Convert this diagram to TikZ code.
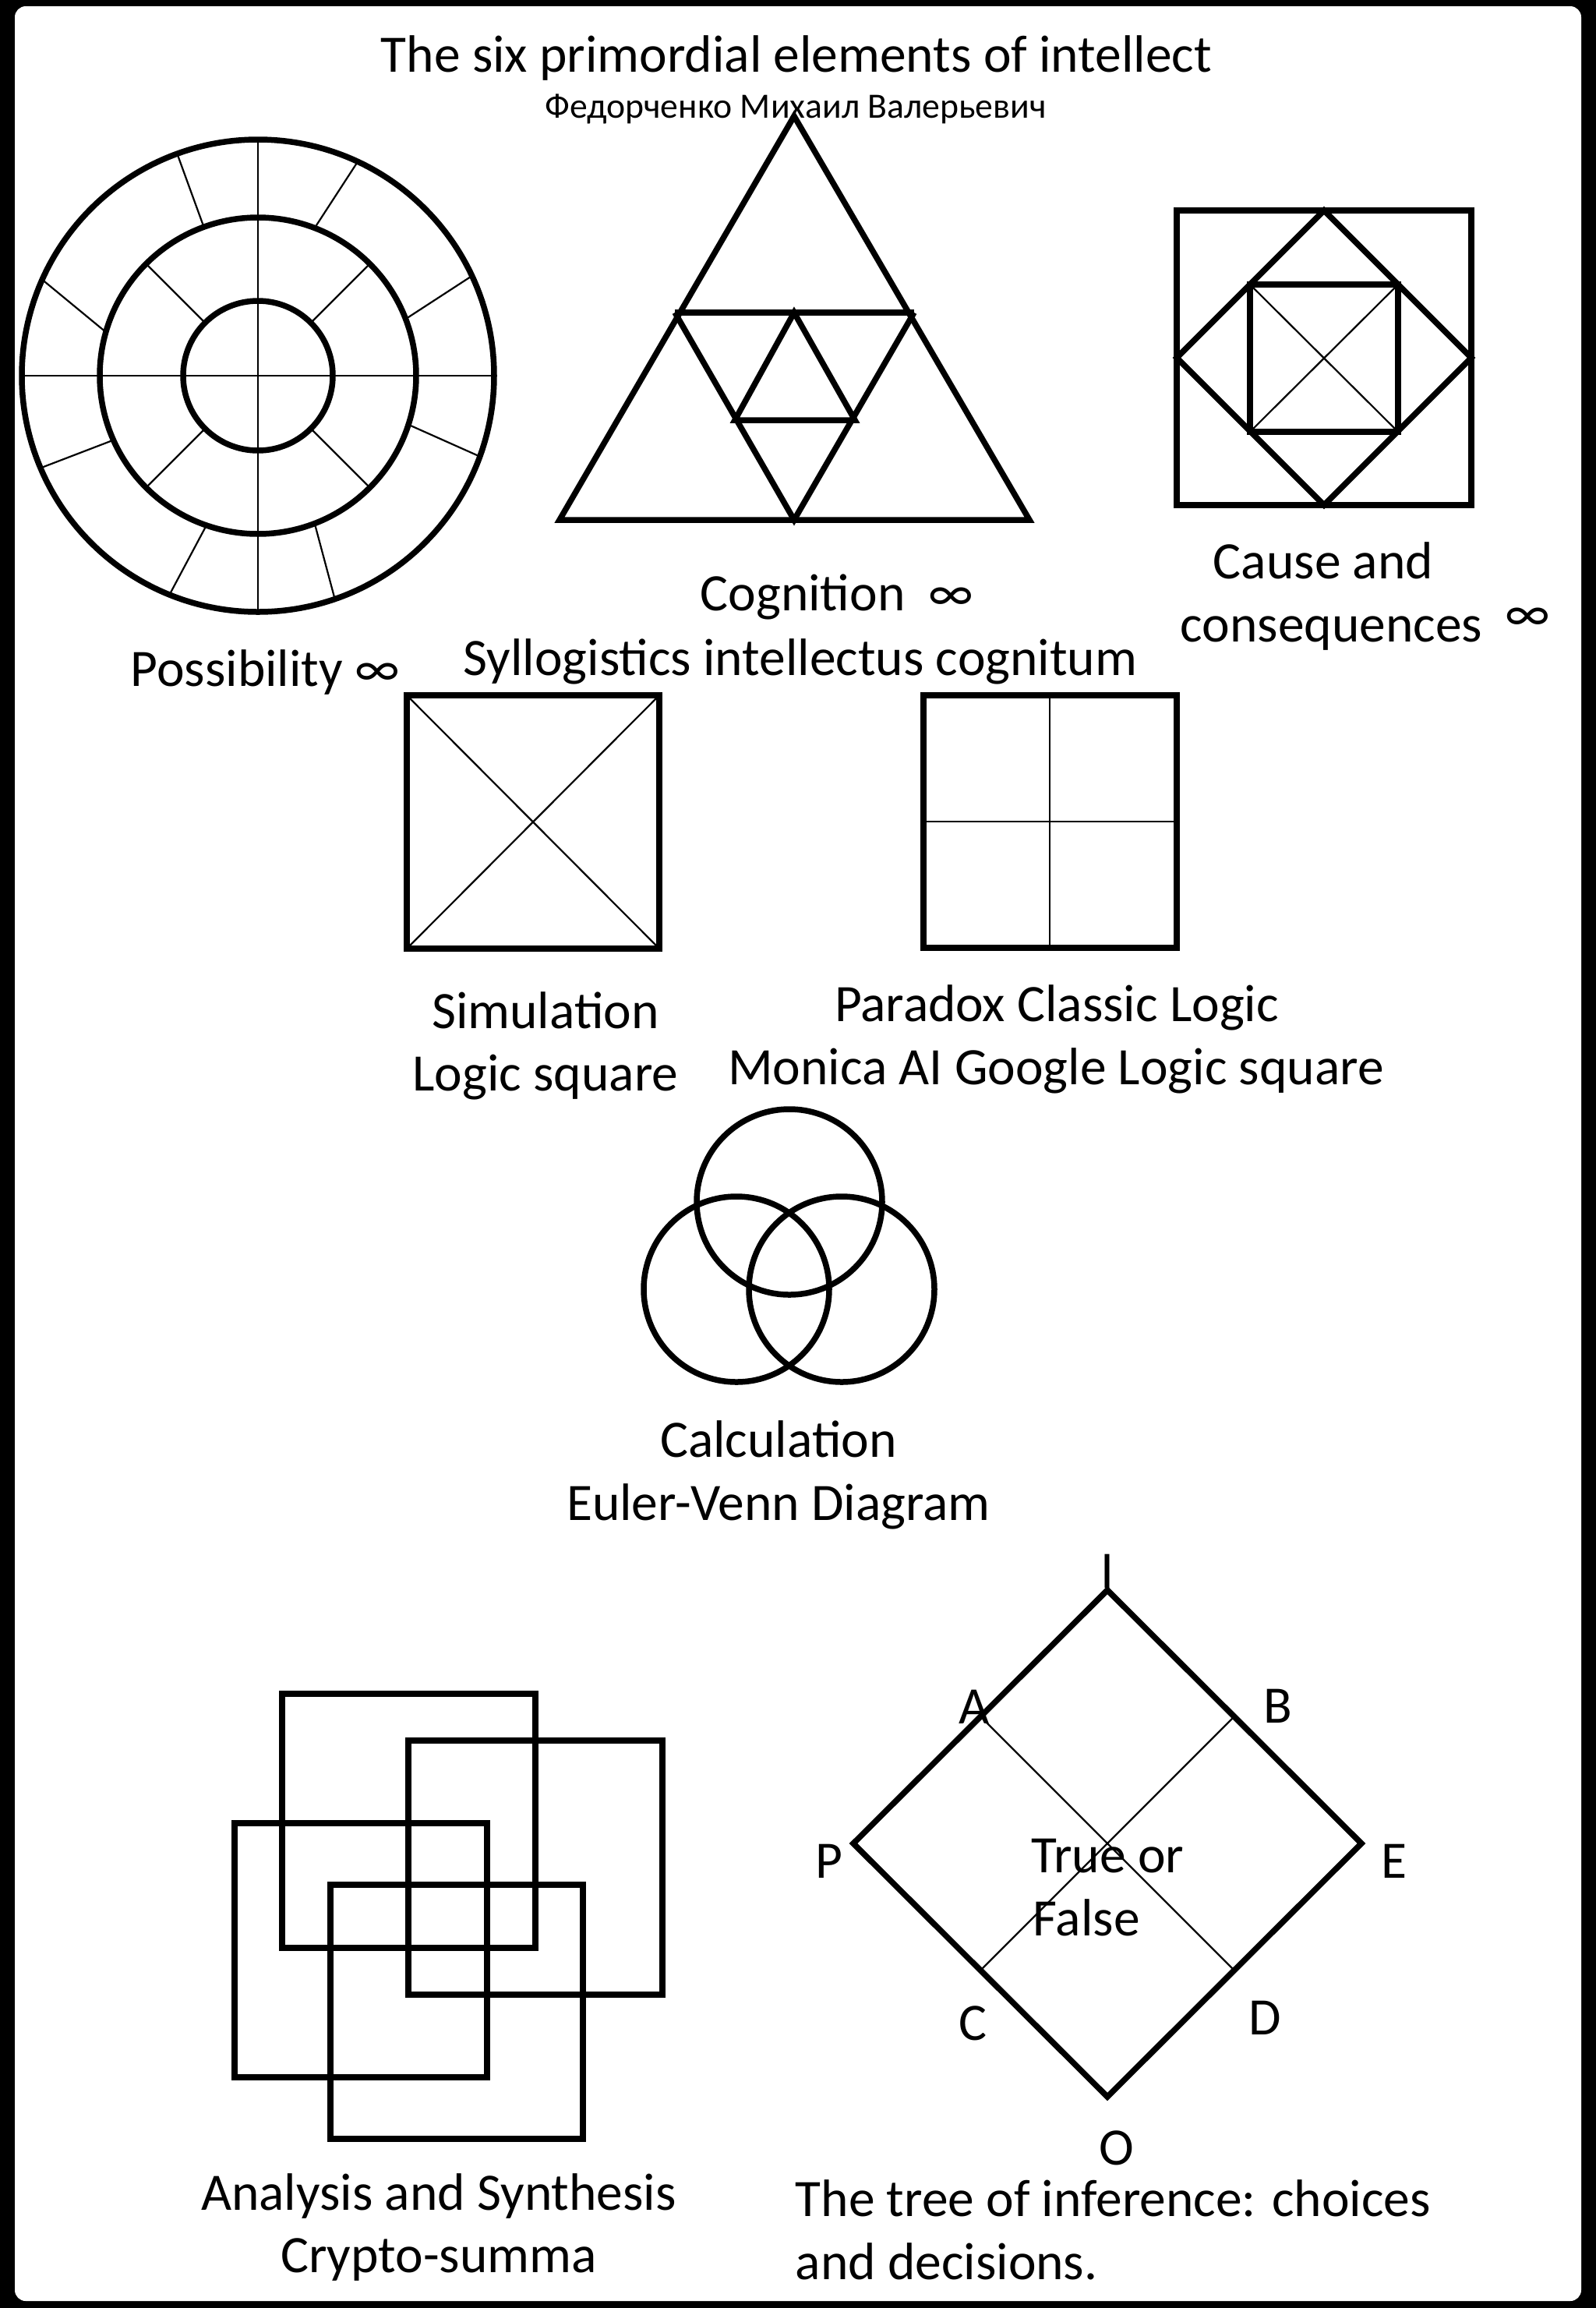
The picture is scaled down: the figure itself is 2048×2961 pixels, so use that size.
\documentclass[tikz,border=0pt]{standalone}
\usepackage{fontspec}
\setmainfont{Carlito}
\begin{document}
\begin{tikzpicture}[x=0.1mm,y=-0.1mm,
  thickline/.style={line width=0.75mm},
  thinline/.style={line width=0.22mm},
  lbl/.style={inner sep=0pt,anchor=base,font=\fontsize{19.2}{23}\selectfont}]
   \fill[black] (0,0) rectangle (2048,2961);
   \fill[white,rounded corners=4] (19,8) rectangle (2029,2952);
   \useasboundingbox (0,0) rectangle (2048,2961);
   \node[lbl] (title) at (1022,92) {The six primordial elements of intellect};
   \node[lbl,font=\fontsize{13}{15}\selectfont] (author) at (1021,151) {Федорченко Михаил Валерьевич};
   \draw[thinline] (28,482) -- (634,482);
   \draw[thinline] (331,179) -- (331,785);
   \foreach \a/\b in {-110/-110,-65/-69,-156/-164,-25/-21,-203/-204,20/18,-248/-251,71/69}
     \draw[thinline,shift={(331,482)}] (\a:303) -- (\b:203);
   \foreach \a in {45,135,225,315}
     \draw[thinline,shift={(331,482)}] (\a:96) -- (\a:203);
   \draw[thickline] (331,482) circle (303);
   \draw[thickline] (331,482) circle (203);
   \draw[thickline] (331,482) circle (96);
   \node[lbl,anchor=base west] (possib) at (167,880) {Possibility ∞};
   \draw[thickline,line join=miter] (1019,149) -- (718,667) -- (1321,667) -- cycle;
   \draw[thickline] (866,401) -- (1173,401);
   \draw[thickline] (866,401) -- (1019,667) -- (1173,401);
   \draw[thickline] (1019,401) -- (943,539) -- (1097,539) -- cycle;
   \node[lbl,anchor=base west] (cogn) at (898,783) {Cognition ~∞};
   \node[lbl,anchor=base west] (syllog) at (594,866) {Syllogistics intellectus cognitum};
   \draw[thickline] (1510,270) rectangle (1888,648);
   \draw[thickline] (1699,270) -- (1888,459) -- (1699,648) -- (1510,459) -- cycle;
   \draw[thickline] (1604,365) rectangle (1794,554);
   \draw[thinline] (1604,365) -- (1794,554);
   \draw[thinline] (1794,365) -- (1604,554);
   \node[lbl] (cause) at (1698,742) {Cause and};
   \node[lbl,anchor=base west] (conseq) at (1514,823) {consequences};
   \node[lbl] (causeinf) at (1960,809) {∞};
   \draw[thickline] (522,892) rectangle (846,1217);
   \draw[thinline] (522,892) -- (846,1217);
   \draw[thinline] (846,892) -- (522,1217);
   \node[lbl] (simul) at (700,1319) {Simulation};
   \node[lbl] (simsq) at (700,1399) {Logic square};
   \draw[thickline] (1185,892) rectangle (1510,1216);
   \draw[thinline] (1347,892) -- (1347,1216);
   \draw[thinline] (1185,1054) -- (1510,1054);
   \node[lbl] (parad) at (1356,1310) {Paradox Classic Logic};
   \node[lbl] (monica) at (1355,1391) {Monica AI Google Logic square};
   \draw[thickline] (1013,1542) circle (119);
   \draw[thickline] (945,1654) circle (119);
   \draw[thickline] (1080,1654) circle (119);
   \node[lbl] (calc) at (999,1869) {Calculation};
   \node[lbl] (euler) at (999,1950) {Euler-Venn Diagram};
   \draw[thickline] (362,2173) rectangle (687,2499);
   \draw[thickline] (524,2233) rectangle (850,2559);
   \draw[thickline] (301,2339) rectangle (625,2665);
   \draw[thickline] (424,2418) rectangle (748,2744);
   \node[lbl] (analys) at (563,2835) {Analysis and Synthesis};
   \node[lbl] (crypto) at (563,2915) {Crypto-summa};
   \draw[thickline] (1421,2040) -- (1747,2365) -- (1421,2690) -- (1095,2365) -- cycle;
   \draw[thinline] (1258,2202) -- (1584,2528);
   \draw[thinline] (1584,2202) -- (1258,2528);
   \node[lbl] (vI) at (1421,2037) {I};
   \node[lbl] (vA) at (1250,2211) {A};
   \node[lbl] (vB) at (1640,2210) {B};
   \node[lbl] (vP) at (1064,2409) {P};
   \node[lbl] (vE) at (1789,2409) {E};
   \node[lbl] (vC) at (1248,2617) {C};
   \node[lbl] (vD) at (1623,2610) {D};
   \node[lbl] (vO) at (1433,2777) {O};
   \node[lbl,anchor=base west] (trueor) at (1323,2402) {True or};
   \node[lbl,anchor=base west] (false) at (1325,2483) {False};
   \node[lbl,anchor=base west] (tree) at (1020,2843) {The tree of inference: choices};
   \node[lbl,anchor=base west] (decis) at (1020,2924) {and decisions.};
\end{tikzpicture}
\end{document}
